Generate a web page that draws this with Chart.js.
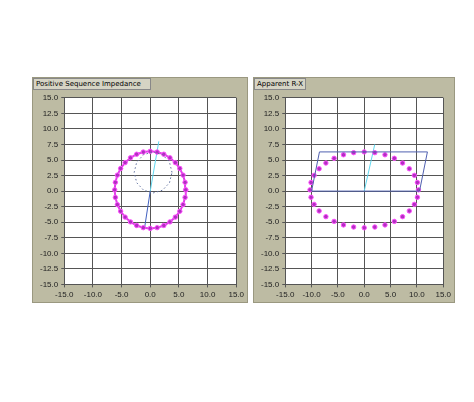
<!DOCTYPE html><html><head><script src="https://cdn.jsdelivr.net/npm/chart.js@4"></script>
<style>body{margin:0;background:#fff;font-family:"DejaVu Sans",sans-serif}
.p{position:absolute;background:#bdbba3;border:1px solid #9a9880}
.t{position:absolute;top:0;left:0;font-size:7px;background:#d6d4c4;border:1px solid #888;padding:1px 2px;white-space:nowrap}
canvas{position:absolute}</style></head><body>
<div class="p" style="left:32px;top:77px;width:214px;height:224px"><div class="t" style="width:112px">Positive Sequence Impedance</div><div style="position:absolute;left:0;top:0"><canvas id="c1" width="214" height="222" style="top:12px"></canvas></div></div>
<div class="p" style="left:253px;top:77px;width:200px;height:224px"><div class="t">Apparent R-X</div><div style="position:absolute;left:0;top:0"><canvas id="c2" width="200" height="222" style="top:12px"></canvas></div></div>
<script>
const xTicks=[-15,-10,-5,0,5,10,15];
const yTicks=[-15,-12.5,-10,-7.5,-5,-2.5,0,2.5,5,7.5,10,12.5,15];
const leftCircleX=[6.2,6.08,5.73,5.16,4.38,3.44,2.37,1.21,0,-1.21,-2.37,-3.44,-4.38,-5.16,-5.73,-6.08,-6.2,-6.08,-5.73,-5.16,-4.38,-3.44,-2.37,-1.21,0,1.21,2.37,3.44,4.38,5.16,5.73,6.08];
const leftCircleY=[0.2,1.41,2.57,3.64,4.58,5.35,5.93,6.28,6.4,6.28,5.93,5.35,4.58,3.64,2.57,1.41,0.2,-1.01,-2.17,-3.24,-4.18,-4.95,-5.53,-5.88,-6.0,-5.88,-5.53,-4.95,-4.18,-3.24,-2.17,-1.01];
const smallCircleX=[3.8,3.36,2.15,0.5,-1.15,-2.36,-2.8,-2.36,-1.15,0.5,2.15,3.36,3.8];
const smallCircleY=[3,4.65,5.86,6.3,5.86,4.65,3,1.35,0.14,-0.3,0.14,1.35,3];
const leftCyanX=[0,1.5], leftCyanY=[0,8];
const leftBlueX=[0,-1], leftBlueY=[0,-6];
const ellipseX=[10.3,10.1,9.52,8.56,7.28,5.72,3.94,2.01,0,-2.01,-3.94,-5.72,-7.28,-8.56,-9.52,-10.1,-10.3,-10.1,-9.52,-8.56,-7.28,-5.72,-3.94,-2.01,0,2.01,3.94,5.72,7.28,8.56,9.52,10.1];
const ellipseY=[0.2,1.39,2.53,3.59,4.51,5.27,5.84,6.18,6.3,6.18,5.84,5.27,4.51,3.59,2.53,1.39,0.2,-0.99,-2.13,-3.19,-4.11,-4.87,-5.44,-5.78,-5.9,-5.78,-5.44,-4.87,-4.11,-3.19,-2.13,-0.99];
const quadX=[-10,-8.5,12,10.5,-10], quadY=[0,6.3,6.3,0,0];
const rightCyanX=[0,2], rightCyanY=[0,7.5];
const pts=(xs,ys)=>xs.map((x,i)=>({x,y:ys[i]}));
const bg={id:'bg',beforeDraw(c){const a=c.chartArea,g=c.ctx;g.save();g.fillStyle='#fff';g.fillRect(a.left,a.top,a.width,a.height);g.restore();}};
function mk(id,ds){new Chart(document.getElementById(id),{type:'scatter',data:{datasets:ds},plugins:[bg],
options:{responsive:false,animation:false,plugins:{legend:{display:false},tooltip:{enabled:false}},layout:{padding:{top:6,right:6,bottom:9,left:4}},
scales:{x:{min:-15,max:15,afterBuildTicks:a=>{a.ticks=xTicks.map(v=>({value:v}))},grid:{color:'#555',lineWidth:1,tickLength:3},border:{color:'#555'},ticks:{color:'#222',font:{size:8},maxRotation:0,callback:v=>v.toFixed(1)}},
y:{min:-15,max:15,afterBuildTicks:a=>{a.ticks=yTicks.map(v=>({value:v}))},grid:{color:'#555',lineWidth:1,tickLength:3},border:{color:'#555'},ticks:{color:'#222',font:{size:8},callback:v=>v.toFixed(1)}}}}});}
const dots=(d,line)=>({data:d,showLine:line,borderColor:'#e040e8',backgroundColor:'#b030c0',pointRadius:2.2,pointBorderColor:'#ff50ff',pointBorderWidth:1,borderWidth:2});
const ln=(d,c,dash)=>({data:d,showLine:true,borderColor:c,borderWidth:1,pointRadius:0,borderDash:dash||[]});
mk('c1',[ln(pts(smallCircleX,smallCircleY),'#6070a0',[1.5,2.5]),dots(pts(leftCircleX.concat([leftCircleX[0]]),leftCircleY.concat([leftCircleY[0]])),true),ln(pts(leftCyanX,leftCyanY),'#60d8f0'),ln(pts(leftBlueX,leftBlueY),'#4060c0')]);
const d2=ln(pts(quadX,quadY),'#5060b0');
mk('c2',[d2,dots(pts(ellipseX,ellipseY),false),ln(pts(rightCyanX,rightCyanY),'#60d8f0')]);
</script></body></html>
